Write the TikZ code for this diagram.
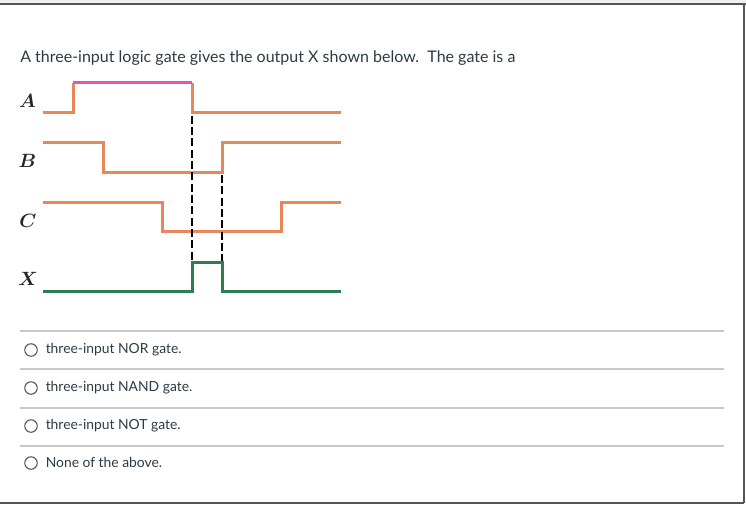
\documentclass[tikz,border=0pt]{standalone}
\usepackage{fontspec}
\setmainfont{Lato}
\definecolor{txt}{HTML}{2D3B45}
\definecolor{wave}{HTML}{E8875A}
\definecolor{wavea}{HTML}{DC7A8E}
\definecolor{green}{HTML}{2E7D4F}
\definecolor{frame}{HTML}{555555}
\definecolor{sep}{HTML}{C8C8C8}
\definecolor{strip}{HTML}{F0F0F0}
\begin{document}
\begin{tikzpicture}[x=0.75pt,y=-0.75pt,
  sig/.style={line width=2.25pt,line join=miter},
  guide/.style={line width=1.5pt,black,dash pattern=on 6pt off 2.5pt},
  siglabel/.style={font=\fontsize{15.5}{17}\selectfont\boldmath,inner sep=0pt,text=black!85},
  opt/.style={font=\fontsize{10.4}{12}\selectfont,text=txt,anchor=west,inner sep=0pt},
  radio/.style={circle,draw=frame,line width=0.8pt,minimum size=12.5*0.75pt,inner sep=0pt},
  rule/.style={sep,line width=0.9pt}]
\useasboundingbox (0,0) rectangle (746,508);
\fill[white] (0,0) rectangle (746,508);
\fill[strip] (0,0) rectangle (746,4);
\draw[frame,line width=1.3pt] (0,4) -- (746,4);
\draw[frame,line width=1.5pt] (744,4) -- (744,503);
\draw[frame,line width=1.5pt] (0,503) -- (744,503);
% title
\node[anchor=base west,inner sep=0pt,text=txt,font=\fontsize{12}{14}\selectfont] (title) at (20,62) {A three-input logic gate gives the output X shown below.\ \ The gate is a};
% signal labels
\node[siglabel] (la) at (27.5,101) {$A$};
\node[siglabel] (lb) at (27.5,161) {$B$};
\node[siglabel] (lc) at (28,221) {$C$};
\node[siglabel] (lx) at (28,278.5) {$X$};
% waveforms
\draw[sig,wave] (43,112.7) -- (73,112.7) -- (73,82.7);
\draw[sig,wave] (192,82.7) -- (192,112.7) -- (341,112.7);
\draw[sig,color=wavea!70!magenta] (73,82.7) -- (192,82.7);
\draw[sig,wave] (43,142.7) -- (103,142.7) -- (103,172.3) -- (222,172.3) -- (222,142.7) -- (341,142.7);
\draw[sig,wave] (43,202.3) -- (162.3,202.3) -- (162.3,231.7) -- (281.7,231.7) -- (281.7,202.3) -- (341,202.3);
\draw[sig,green] (43,291.7) -- (192,291.7) -- (192,262.3) -- (222,262.3) -- (222,291.7) -- (341,291.7);
% guides
\coordinate (g1t) at (192,115.5);
\coordinate (g1b) at (192,261);
\coordinate (g2t) at (222,175);
\coordinate (g2b) at (222,261);
\draw[guide] (g1t) -- (g1b);
\draw[guide] (g2t) -- (g2b);
% separators
\draw[rule] (20,331) -- (724,331);
\draw[rule] (20,369) -- (724,369);
\draw[rule] (20,408) -- (724,408);
\draw[rule] (20,446) -- (724,446);
% options
\node[radio] (r1) at (31,350) {};
\node[radio] (r2) at (31,388) {};
\node[radio] (r3) at (31,426) {};
\node[radio] (r4) at (31,463) {};
\node[opt] (o1) at (45.5,349.5) {three-input NOR gate.};
\node[opt] (o2) at (45.5,387.5) {three-input NAND gate.};
\node[opt] (o3) at (45.5,425.5) {three-input NOT gate.};
\node[opt] (o4) at (45.5,462.5) {None of the above.};
\end{tikzpicture}
\end{document}
